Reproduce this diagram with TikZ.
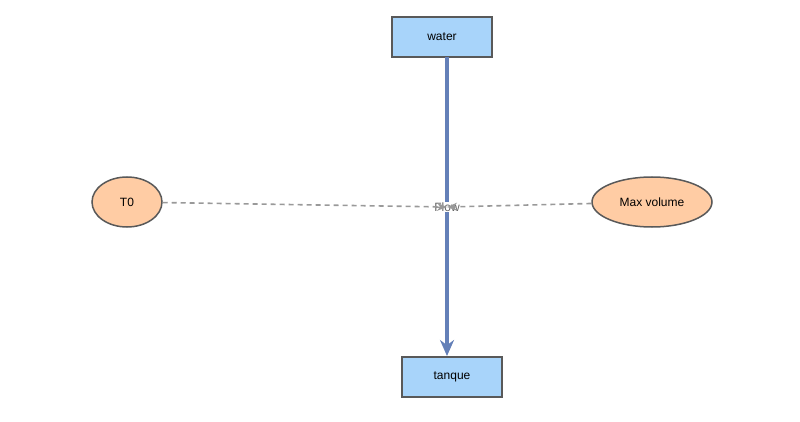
\documentclass[tikz,border=0pt]{standalone}
\usepackage{fontspec}
\setmainfont{Liberation Sans}
\usetikzlibrary{shapes.geometric,arrows.meta}
\begin{document}
\begin{tikzpicture}[x=1pt,y=-1pt,
 stock/.style={draw=black!65,fill={rgb,255:red,168;green,212;blue,250},line width=1.5pt,minimum width=100pt,minimum height=40pt,inner sep=0,font=\fontsize{12}{14}\selectfont},
 aux/.style={ellipse,draw=black!65,fill={rgb,255:red,255;green,204;blue,164},line width=1.5pt,inner sep=0,font=\fontsize{12}{14}\selectfont},
 flowc/.style={draw={rgb,255:red,100;green,128;blue,184},line width=4pt},
 link/.style={draw=black!40,dash pattern=on 5pt off 4pt,line width=1.6pt,-{Stealth[length=10pt,width=8pt]}}]
\useasboundingbox (0,0) rectangle (800,422);
\node[stock] (water) at (442,37) {water};
\node[stock] (tanque) at (452,377) {tanque};
\node[aux,minimum width=70pt,minimum height=50pt] (t0) at (127,202) {T0};
\node[aux,minimum width=120pt,minimum height=50pt] (mv) at (652,202) {Max volume};
\coordinate (ftop) at (447,57);
\coordinate (fbot) at (447,356);
\draw[flowc,-{Stealth[length=16pt,width=14pt]}] (ftop) -- (fbot);
\node[fill=white,inner sep=1pt,text=black!60,font=\fontsize{12}{14}\selectfont] (flow) at (447,207) {Flow};
\draw[link] (t0) -- (flow.center);
\draw[link] (mv) -- (flow.center);
\end{tikzpicture}
\end{document}
